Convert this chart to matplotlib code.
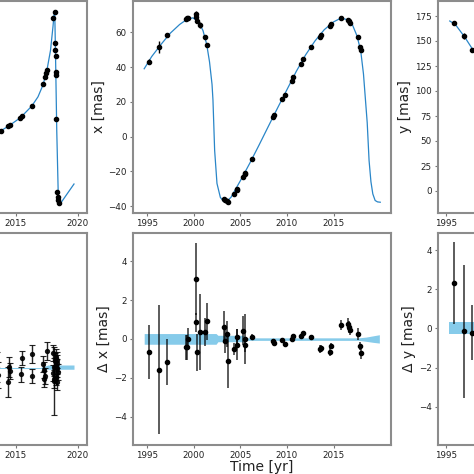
import numpy as np
import matplotlib.pyplot as plt

# ---------------- left column: radial velocity [km/s] (only right end in view)
rv_t = [2013.84, 2014.42, 2014.56, 2015.36, 2015.5, 2016.3, 2017.22, 2017.36, 2017.42, 2017.54,
        2018.02, 2018.14, 2018.16, 2018.18, 2018.2, 2018.22, 2018.23, 2018.25, 2018.34, 2018.38,
        2018.42, 2018.5]
rv_obs = [281, 437, 469, 678, 750, 1063, 1750, 1979, 2084, 2188,
          3822, 3990, 3022, 2813, 2625, 2134, 2031, 656, -1634, -1772,
          -1875, -1978]

rv_model_t = [2010.0, 2011.0, 2012.0, 2013.0, 2013.8, 2014.5, 2015.4, 2016.3, 2016.8, 2017.2,
              2017.5, 2017.8, 2018.0, 2018.08, 2018.14, 2018.2, 2018.3, 2018.42, 2018.5, 2018.55,
              2019.1, 2019.68]
rv_model = [-300, -150, 0, 150, 280, 450, 700, 1060, 1350, 1720,
            2150, 2800, 3550, 3900, 4000, 2700, 300, -1700, -1990, -2010,
            -1700, -1375]

rv_res_t = [2013.5, 2013.6, 2014.42, 2014.5, 2014.56, 2015.42, 2015.5, 2016.3, 2016.32, 2017.22,
            2017.26, 2017.3, 2017.36, 2017.52, 2017.97, 2017.98, 2018.04, 2018.06, 2018.1, 2018.15,
            2018.2, 2018.22, 2018.28, 2018.3, 2018.32, 2018.35, 2018.4]
rv_res = [1, -32, -59, 1, -16, -28, 35, 52, -36, 11,
          -12, -49, -36, 64, 55, -25, -49, -56, 1, 24,
          41, -39, 28, -5, -59, 16, -20]
rv_res_err = [60, 53, 60, 40, 32, 30, 28, 36, 28, 32,
              32, 32, 32, 36, 32, 32, 36, 136, 36, 32,
              32, 32, 32, 36, 32, 32, 32]

rv_band_t = [2010.0, 2017.0, 2017.6, 2019.68]
rv_band_lo = [-6, -6, -9, -9]
rv_band_hi = [-2, -2, 8, 8]

# ---------------- middle column: x offset [mas]
x_t = [1995.2, 1996.3, 1997.1, 1999.15, 1999.3, 1999.4, 2000.2, 2000.25, 2000.4, 2000.7,
       2001.25, 2001.45, 2003.25, 2003.4, 2003.6, 2003.7, 2004.3, 2004.6, 2004.65, 2005.3,
       2005.5, 2005.55, 2006.3, 2008.5, 2008.65, 2009.47, 2009.76, 2010.5, 2010.7, 2011.5,
       2011.7, 2012.6, 2013.5, 2013.7, 2014.57, 2014.75, 2015.8, 2016.5, 2016.7, 2016.8,
       2017.6, 2017.85, 2017.9]
x_obs = [43.1, 51.5, 58.2, 67.8, 68.0, 68.0, 70.5, 68.6, 66.5, 64.2,
         57.5, 52.9, -36.0, -36.8, -37.3, -37.7, -33.0, -30.6, -30.0, -23.4,
         -21.5, -21.2, -12.8, 11.1, 12.5, 21.7, 24.0, 32.2, 34.1, 42.0,
         44.6, 51.7, 57.5, 58.4, 63.8, 64.6, 68.2, 67.3, 66.3, 65.5,
         57.1, 51.5, 49.8]
dx = [-0.67, -1.57, -1.18, -0.43, -0.43, 0.0, 3.09, 0.85, -0.68, 0.36,
      0.36, 0.92, 0.63, -0.12, 0.26, -1.14, -0.5, -0.29, 0.09, 0.43,
      0.0, -0.29, 0.1, -0.12, -0.2, -0.07, -0.26, 0.0, 0.14, 0.17,
      0.31, 0.1, -0.5, -0.46, -0.67, -0.37, 0.73, 0.78, 0.62, 0.48,
      0.26, -0.34, -0.72]
x_err = [1.37, 3.3, 1.2, 0.65, 0.65, 0.55, 1.85, 0.5, 0.95, 1.95,
         0.72, 0.95, 0.8, 0.6, 0.66, 1.4, 0.3, 0.8, 0.4, 0.75,
         1.3, 0.4, 0.15, 0.1, 0.1, 0.1, 0.1, 0.1, 0.1, 0.1,
         0.1, 0.1, 0.2, 0.15, 0.2, 0.15, 0.25, 0.3, 0.3, 0.25,
         0.3, 0.2, 0.3]

x_model_t = [1994.7, 1995.5, 1996.5, 1997.5, 1998.5, 1999.3, 1999.9, 2000.5, 2001.0, 2001.4,
             2001.7, 2001.97, 2002.07, 2002.25, 2002.5, 2002.86, 2003.2, 2003.5, 2004.0, 2005.0,
             2006.0, 2007.0, 2008.0, 2009.0, 2010.0, 2011.0, 2012.0, 2013.0, 2014.0, 2015.0,
             2015.8, 2016.5, 2017.0, 2017.5, 2017.9, 2018.2, 2018.4, 2018.6, 2018.8, 2019.0,
             2019.2, 2019.45, 2019.7, 2020.0]
x_model = [39, 46, 53, 59.5, 64.5, 67.5, 68.3, 66.3, 61, 53,
           43, 30, 21, -8, -27, -35, -37.3, -37.5, -35, -25.5,
           -15.5, -5, 5.8, 16.5, 27, 37.5, 47, 55, 61.5, 66,
           68.2, 67.2, 64.5, 58, 49.5, 36, 22, 8, -13.8, -26,
           -33, -36.8, -37.6, -37.8]

x_band_t = [1994.7, 2002.4, 2002.6, 2005.3, 2005.6, 2017.7, 2018.5, 2019.2, 2019.9]
x_band_lo = [-0.27, -0.27, -0.14, -0.14, -0.07, -0.07, -0.12, -0.17, -0.21]
x_band_hi = [0.28, 0.28, 0.19, 0.19, 0.06, 0.06, 0.10, 0.16, 0.22]

# ---------------- right column: y offset [mas] (only left end in view)
y_t = [1995.9, 1996.9, 1997.8]
y_obs = [168.3, 155.0, 141.0]
dy = [2.32, -0.15, -0.22]
y_err = [2.1, 3.4, 1.4]

y_model_t = [1995.4, 1996.0, 1997.0, 1998.0, 1999.0, 2000.0]
y_model = [170, 166.5, 154, 139.5, 124, 108]

y_band_t = [1995.3, 2000.0, 2003.0]
y_band_lo = [-0.31, -0.31, -0.31]
y_band_hi = [0.32, 0.32, 0.32]

# ---------------- figure: crop of a wider 2 x 3 grid
PX = 474.0
fig = plt.figure(figsize=(4.74, 4.74), dpi=100)

W = 258 / PX
H = 212 / PX
top_b = (PX - 213) / PX
bot_b = (PX - 445) / PX
lefts = [-171 / PX, 133 / PX, 438 / PX]

ax_rv = fig.add_axes([lefts[0], top_b, W, H])
ax_x = fig.add_axes([lefts[1], top_b, W, H])
ax_y = fig.add_axes([lefts[2], top_b, W, H])
ax_drv = fig.add_axes([lefts[0], bot_b, W, H])
ax_dx = fig.add_axes([lefts[1], bot_b, W, H])
ax_dy = fig.add_axes([lefts[2], bot_b, W, H])

LINE = '#2a86c8'
BAND = '#86cbea'

# top row: data + model
ax_rv.plot(rv_model_t, rv_model, color=LINE, lw=0.9, zorder=1)
ax_rv.plot(rv_t, rv_obs, 'o', color='black', ms=3.0, zorder=2)

ax_x.plot(x_model_t, x_model, color=LINE, lw=0.9, zorder=1)
ax_x.errorbar(x_t, x_obs, yerr=x_err, fmt='o', color='black', ms=3.0, elinewidth=1, zorder=2)

ax_y.plot(y_model_t, y_model, color=LINE, lw=0.9, zorder=1)
ax_y.errorbar(y_t, y_obs, yerr=y_err, fmt='o', color='black', ms=3.0, elinewidth=1, zorder=2)

# bottom row: residuals + model uncertainty band
ax_drv.fill_between(rv_band_t, rv_band_lo, rv_band_hi, color=BAND, lw=0, zorder=1)
ax_drv.errorbar(rv_res_t, rv_res, yerr=rv_res_err, fmt='o', color='black', ms=2.8,
                elinewidth=1, capsize=2, capthick=0.8, alpha=0.85, zorder=2)

ax_dx.fill_between(x_band_t, x_band_lo, x_band_hi, color=BAND, lw=0, zorder=1)
ax_dx.errorbar(x_t, dx, yerr=x_err, fmt='o', color='black', ms=3.0,
               elinewidth=1.2, ecolor=(0, 0, 0, 0.75), zorder=2)

ax_dy.fill_between(y_band_t, y_band_lo, y_band_hi, color=BAND, lw=0, zorder=1)
ax_dy.errorbar(y_t, dy, yerr=y_err, fmt='o', color='black', ms=3.0,
               elinewidth=1.2, ecolor=(0, 0, 0, 0.75), zorder=2)

# limits and ticks (only the ticks that fall inside the crop)
ax_rv.set_xlim(2000.08, 2020.72)
ax_rv.set_ylim(-2281, 4344)
ax_drv.set_xlim(2000.08, 2020.72)
ax_drv.set_ylim(-312, 536)
for a in (ax_rv, ax_drv):
    a.set_xticks([2015, 2020])
    a.set_yticks([])

ax_x.set_xlim(1993.5, 2021.15)
ax_x.set_ylim(-44, 78)
ax_x.set_yticks([-40, -20, 0, 20, 40, 60])
ax_dx.set_xlim(1993.5, 2021.15)
ax_dx.set_ylim(-5.45, 5.45)
ax_dx.set_yticks([-4, -2, 0, 2, 4])
for a in (ax_x, ax_dx):
    a.set_xticks([1995, 2000, 2005, 2010, 2015])

ax_y.set_xlim(1994.14, 2021.8)
ax_y.set_ylim(-22, 190)
ax_y.set_yticks([0, 25, 50, 75, 100, 125, 150, 175])
ax_dy.set_xlim(1994.14, 2021.8)
ax_dy.set_ylim(-5.95, 4.87)
ax_dy.set_yticks([-4, -2, 0, 2, 4])
for a in (ax_y, ax_dy):
    a.set_xticks([1995])

ax_x.set_ylabel('x [mas]', fontsize=10, color='#222222', labelpad=2)
ax_dx.set_ylabel('Δ x [mas]', fontsize=10, color='#222222', labelpad=2)
ax_y.set_ylabel('y [mas]', fontsize=10, color='#222222', labelpad=2)
ax_dy.set_ylabel('Δ y [mas]', fontsize=10, color='#222222', labelpad=2)
ax_dx.set_xlabel('Time [yr]', fontsize=10, color='#222222', labelpad=0)

for a in fig.axes:
    for s in a.spines.values():
        s.set_color('#8c8c8c')
        s.set_linewidth(1.5)
    a.tick_params(labelsize=6.3, length=2.5, width=0.8, color='#777777',
                  labelcolor='#222222', pad=2)

fig.savefig('out.png', dpi=100)
